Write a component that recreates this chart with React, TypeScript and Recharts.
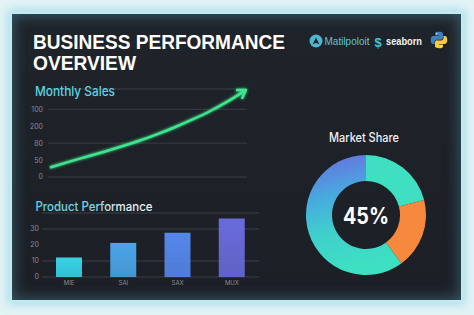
import { Bar, BarChart, CartesianGrid, Cell, Line, LineChart, Pie, PieChart, XAxis, YAxis } from 'recharts';

// monthly sales (axis units: one step per gridline)
const months = ['Jan', 'Feb', 'Mar', 'Apr', 'May', 'Jun', 'Jul', 'Aug', 'Sep', 'Oct', 'Nov', 'Dec'];
const salesValues = [0.56, 0.88, 1.18, 1.48, 1.8, 2.14, 2.52, 2.94, 3.4, 3.9, 4.48, 5.15];
const salesTicks = [0, 1, 2, 3, 4];
const salesTickLabels = ['0', '50', '80', '200', '100'];

// product performance
const products = ['MIE', 'SAI', 'SAX', 'MUX'];
const productValues = [12.2, 21.3, 27.7, 36.6];
const productTicks = [0, 10, 20, 30];
const productColors = ['#37d3e6', '#4aa5e9', '#5588ec', '#6a6bdb'];

// market share
const shareNames = ['Segment A', 'Segment B', 'Segment C'];
const shareValues = [21, 19, 60];
const shareCenterLabel = '45%';

const salesData = months.map((m, i) => ({ i, month: m, sales: salesValues[i] }));
const productData = products.map((p, i) => ({ name: p, value: productValues[i] }));
const shareData = shareNames.map((n, i) => ({ name: n, value: shareValues[i] }));

const FONT = 'Inter, "Liberation Sans", sans-serif';
const GRID = '#3a3e47';
const TICK = { fill: '#868c95', fontSize: 7, fontFamily: FONT };

export default function App() {
  return (
    <div style={frameStyle}>
      <div style={panelStyle} />

      <div style={{ position: 'absolute', left: 20, top: 80 }}>
        <LineChart width={240} height={110} data={salesData} margin={{ top: 9, right: 13, bottom: 13, left: 0 }}>
          <defs>
            <filter id="glow" x="-20%" y="-40%" width="140%" height="180%">
              <feGaussianBlur stdDeviation="1.6" result="b" />
              <feMerge>
                <feMergeNode in="b" />
                <feMergeNode in="SourceGraphic" />
              </feMerge>
            </filter>
            <marker id="arrow" viewBox="0 0 12 12" refX="9" refY="6" markerWidth="12" markerHeight="12" markerUnits="userSpaceOnUse" orient="auto">
              <path d="M1,1 L9,6 L1,11" fill="none" stroke="#3ee68c" strokeWidth="2.4" strokeLinecap="round" strokeLinejoin="round" />
            </marker>
          </defs>
          <CartesianGrid stroke={GRID} vertical={false} />
          <XAxis dataKey="i" type="number" domain={[0, 11]} hide padding={{ left: 2, right: 1 }} />
          <YAxis
            domain={[0, 5.2]}
            ticks={salesTicks}
            tickFormatter={(v: number) => salesTickLabels[v] ?? ''}
            tick={TICK}
            axisLine={false}
            tickLine={false}
            tickSize={0}
            tickMargin={5}
            width={28}
          />
          <Line
            type="monotone"
            dataKey="sales"
            stroke="#3ee68c"
            strokeWidth={2.5}
            dot={false}
            markerEnd="url(#arrow)"
            filter="url(#glow)"
            isAnimationActive={false}
          />
        </LineChart>
      </div>

      <div style={{ position: 'absolute', left: 20, top: 195 }}>
        <BarChart width={240} height={100} data={productData} margin={{ top: 18, right: 1, bottom: 4, left: 0 }}>
          <defs>
            {productColors.map((c, i) => (
              <linearGradient key={i} id={`barGrad${i}`} x1="0" y1="0" x2="0" y2="1">
                <stop offset="0%" stopColor={c} />
                <stop offset="100%" stopColor={c} stopOpacity={0.88} />
              </linearGradient>
            ))}
          </defs>
          <CartesianGrid stroke={GRID} vertical={false} />
          <XAxis
            dataKey="name"
            tick={{ ...TICK, fontSize: 6 }}
            axisLine={false}
            tickLine={false}
            tickSize={0}
            tickMargin={4}
            height={14}
            interval={0}
          />
          <YAxis
            domain={[0, 40]}
            ticks={productTicks}
            tick={TICK}
            axisLine={false}
            tickLine={false}
            tickSize={0}
            tickMargin={3}
            width={22}
          />
          <Bar dataKey="value" barSize={26} isAnimationActive={false}>
            {productData.map((d, i) => (
              <Cell key={d.name} fill={`url(#barGrad${i})`} />
            ))}
          </Bar>
        </BarChart>
      </div>

      <div style={{ position: 'absolute', left: 305, top: 155 }}>
        <PieChart width={122} height={122} margin={{ top: 0, right: 0, bottom: 0, left: 0 }}>
          <defs>
            <linearGradient id="shareGrad" x1="0.3" y1="1" x2="0.1" y2="0">
              <stop offset="0%" stopColor="#3ee0c2" />
              <stop offset="35%" stopColor="#3fd0cc" />
              <stop offset="65%" stopColor="#48a9df" />
              <stop offset="100%" stopColor="#6a6ce0" />
            </linearGradient>
          </defs>
          <Pie
            data={shareData}
            dataKey="value"
            cx={61}
            cy={60}
            innerRadius={34}
            outerRadius={60}
            startAngle={90}
            endAngle={-270}
            stroke="none"
            isAnimationActive={false}
          >
            <Cell fill="#3fe0c2" />
            <Cell fill="#f6893e" />
            <Cell fill="url(#shareGrad)" />
          </Pie>
        </PieChart>
      </div>

      <svg width={474} height={315} style={{ position: 'absolute', left: 0, top: 0, pointerEvents: 'none' }}>
        <defs>
          <linearGradient id="titleGrad" x1="0" y1="0" x2="1" y2="0">
            <stop offset="0%" stopColor="#5fcfe0" />
            <stop offset="50%" stopColor="#7fd2de" />
            <stop offset="70%" stopColor="#e6eef0" />
            <stop offset="100%" stopColor="#eef2f3" />
          </linearGradient>
        </defs>
        <g fontFamily='"Liberation Sans", Arial, sans-serif' fontWeight={700} fill="#ffffff">
          <text x={33} y={49} fontSize={19.5} textLength={252} lengthAdjust="spacingAndGlyphs">BUSINESS PERFORMANCE</text>
          <text x={33} y={70} fontSize={19.5} textLength={103} lengthAdjust="spacingAndGlyphs">OVERVIEW</text>
        </g>

        {/* library badges */}
        <circle cx={316} cy={41} r={6.5} fill="#4fb6cf" />
        <path d="M312.5,44.5 L316,37.5 L319.5,44.5 Q316,41.5 312.5,44.5 Z" fill="#1e2229" />
        <text x={324.5} y={45} fontSize={10} fontFamily='"Liberation Sans", Arial, sans-serif' fill="#63c3d3" textLength={45} lengthAdjust="spacingAndGlyphs">Matilpoloit</text>
        <text x={374.5} y={46.5} fontSize={13} fontWeight={700} fontFamily='"Liberation Sans", Arial, sans-serif' fill="#3fc3dc">$</text>
        <text x={386} y={44.5} fontSize={11} fontWeight={700} fontFamily='"Liberation Sans", Arial, sans-serif' fill="#f2f4f5" textLength={36} lengthAdjust="spacingAndGlyphs">seaborn</text>
        <g transform="translate(430,31) scale(0.75)">
          <path d="M11.9,1 C6.4,1 6.7,3.4 6.7,3.4 L6.7,5.9 L12,5.9 L12,6.7 L4.6,6.7 C4.6,6.7 1,6.3 1,11.9 C1,17.4 4.1,17.2 4.1,17.2 L6,17.2 L6,14.6 C6,14.6 5.9,11.5 9.1,11.5 L14.4,11.5 C14.4,11.5 17.4,11.6 17.4,8.6 L17.4,3.9 C17.4,3.9 17.8,1 11.9,1 Z" fill="#3f7fbf" />
          <path d="M11.9,1 C6.4,1 6.7,3.4 6.7,3.4 L6.7,5.9 L12,5.9 L12,6.7 L4.6,6.7 C4.6,6.7 1,6.3 1,11.9 C1,17.4 4.1,17.2 4.1,17.2 L6,17.2 L6,14.6 C6,14.6 5.9,11.5 9.1,11.5 L14.4,11.5 C14.4,11.5 17.4,11.6 17.4,8.6 L17.4,3.9 C17.4,3.9 17.8,1 11.9,1 Z" fill="#f5c940" transform="rotate(180 12 12)" />
          <circle cx={8.9} cy={3.6} r={0.9} fill="#fff" />
          <circle cx={15.1} cy={20.4} r={0.9} fill="#fff" />
        </g>

        <text x={35} y={95.7} fontSize={13} fontWeight={500} fontFamily={FONT} fill="#5fd2e2" textLength={80} lengthAdjust="spacingAndGlyphs">Monthly Sales</text>
        <text x={35.5} y={211} fontSize={12.5} fontWeight={500} fontFamily={FONT} fill="url(#titleGrad)" textLength={117} lengthAdjust="spacingAndGlyphs">Product Performance</text>
        <text x={364} y={142.3} fontSize={12.5} fontWeight={500} fontFamily={FONT} fill="#eef0f2" textAnchor="middle" textLength={70} lengthAdjust="spacingAndGlyphs">Market Share</text>
        <text x={366} y={224} fontSize={23} fontWeight={700} fontFamily={FONT} fill="#ffffff" textAnchor="middle" textLength={46} lengthAdjust="spacingAndGlyphs">{shareCenterLabel}</text>
      </svg>
    </div>
  );
}

const frameStyle: React.CSSProperties = {
  position: 'absolute',
  left: 0,
  top: 0,
  width: 474,
  height: 315,
  overflow: 'hidden',
  background: '#e3f3f6',
};

const panelStyle: React.CSSProperties = {
  position: 'absolute',
  left: 10,
  top: 12,
  width: 453,
  height: 290,
  boxSizing: 'border-box',
  border: '2px solid #c2ebf1',
  borderRadius: 2,
  background: 'linear-gradient(180deg, #1f232a 0%, #1c1f26 100%)',
  boxShadow: '0 0 9px 3px rgba(130, 210, 225, 0.55), inset 0 0 14px 2px rgba(80, 150, 170, 0.45)',
};
